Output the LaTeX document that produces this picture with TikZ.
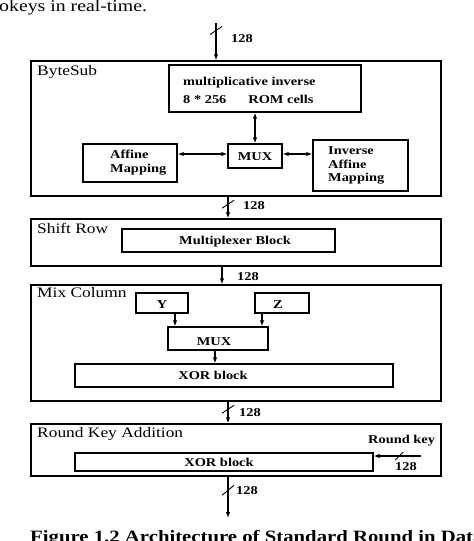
\documentclass[tikz,border=0pt]{standalone}
\usepackage{fontspec}
\setmainfont{Liberation Serif}
\newfontfamily\dfont[FakeStretch=1.2]{Liberation Serif}
\usetikzlibrary{arrows.meta,calc}
\begin{document}
\begin{tikzpicture}[x=1pt,y=-1pt,
  box/.style={draw, line width=1.3pt, inner sep=0pt},
  txt/.style={inner sep=0pt, anchor=base west},
  ctxt/.style={inner sep=0pt, anchor=base},
  lab/.style={font=\dfont\fontsize{14.5}{16}\selectfont},
  bt/.style={font=\dfont\bfseries\fontsize{12}{14}\selectfont},
  arr/.style={line width=1.2pt, -{Latex[length=6pt,width=4.5pt]}},
  darr/.style={line width=1.2pt, {Latex[length=6pt,width=4.5pt]}-{Latex[length=6pt,width=4.5pt]}},
  tick/.style={line width=0.9pt}
]
\fill[white] (0,0) rectangle (474,541);
\useasboundingbox (0,0) rectangle (474,541);

% surrounding text
\node[txt, font=\dfont\fontsize{16.5}{18}\selectfont] (toptext) at (-1,11) {okeys in real-time.};
\node[txt, font=\dfont\bfseries\fontsize{17.3}{19}\selectfont] (caption) at (30,542) {Figure 1.2 Architecture of Standard Round in Data};

% ---- ByteSub
\node[box, minimum width=410pt, minimum height=135pt] (bs) at (236,128.5) {};
\node[txt, lab] (bslab) at (37,75) {ByteSub};
\node[box, minimum width=192pt, minimum height=47pt] (minv) at (265,88.5) {};
\node[txt, bt] (minvt1) at (183,85) {multiplicative inverse};
\node[txt, bt] (minvt2) at (183,103) {8 * 256\hspace{22pt}ROM cells};
\node[box, minimum width=54pt, minimum height=24pt] (mux1) at (255,156) {};
\node[ctxt, bt] (mux1t) at (255,160) {MUX};
\node[box, minimum width=94pt, minimum height=38pt] (aff) at (130,163) {};
\node[txt, bt] (afft1) at (110,158) {Affine};
\node[txt, bt] (afft2) at (110,172) {Mapping};
\node[box, minimum width=95pt, minimum height=51pt] (iaff) at (360.5,165.5) {};
\node[txt, bt] (iafft1) at (328,154) {Inverse};
\node[txt, bt] (iafft2) at (328,168) {Affine};
\node[txt, bt] (iafft3) at (328,181) {Mapping};

% ---- Shift Row
\node[box, minimum width=410pt, minimum height=47pt] (sr) at (236,242.5) {};
\node[txt, lab] (srlab) at (37,233) {Shift Row};
\node[box, minimum width=213pt, minimum height=23pt] (mb) at (228.5,240.5) {};
\node[ctxt, bt] (mbt) at (235,244) {Multiplexer Block};

% ---- Mix Column
\node[box, minimum width=410pt, minimum height=116pt] (mc) at (236,343) {};
\node[txt, lab] (mclab) at (37,297) {Mix Column};
\node[box, minimum width=52pt, minimum height=20pt] (yb) at (162,303) {};
\node[ctxt, bt] (ybt) at (162,308) {Y};
\node[box, minimum width=54pt, minimum height=20pt] (zb) at (282,303) {};
\node[ctxt, bt] (zbt) at (278,308) {Z};
\node[box, minimum width=100pt, minimum height=23pt] (mux2) at (218,338.5) {};
\node[ctxt, bt] (mux2t) at (214,345) {MUX};
\node[box, minimum width=318pt, minimum height=23pt] (xor1) at (234,375.5) {};
\node[ctxt, bt] (xor1t) at (213,379) {XOR block};

% ---- Round Key Addition
\node[box, minimum width=410pt, minimum height=52pt] (rk) at (236,450) {};
\node[txt, lab] (rklab) at (37,437) {Round Key Addition};
\node[box, minimum width=298pt, minimum height=18pt] (xor2) at (224,462) {};
\node[ctxt, bt] (xor2t) at (219,466.5) {XOR block};
\node[txt, bt] (rkey) at (368,443) {Round key};

% ---- coordinates for connectors
\coordinate (in1) at (216,23);
\coordinate (xa) at (228,0);
\coordinate (xb) at (222,0);
\coordinate (ya) at (175,0);
\coordinate (za) at (262,0);
\coordinate (xm) at (215,0);
\coordinate (hy) at (0,154);
\coordinate (rkin) at (421,456);
\coordinate (out) at (228,518);

% ---- connectors
\draw[arr] (in1) -- coordinate[pos=0.2] (t1) (in1 |- bs.north);
\draw[tick] (t1) ++(-6,4) -- ++(12,-8);
\node[txt, bt] (n1) at (231,42) {128};

\draw[darr] (minv.south -| mux1.north) -- (mux1.north);
\draw[darr] (aff.east |- hy) -- (mux1.west |- hy);
\draw[darr] (mux1.east |- hy) -- (iaff.west |- hy);

\draw[arr] (bs.south -| xa) -- coordinate[pos=0.35] (t2) (sr.north -| xa);
\draw[tick] (t2) ++(-6,4) -- ++(12,-8);
\node[txt, bt] (n2) at (243,209) {128};

\draw[arr] (sr.south -| xb) -- (mc.north -| xb);
\node[txt, bt] (n3) at (237,280) {128};

\draw[arr] (yb.south -| ya) -- (mux2.north -| ya);
\draw[arr] (zb.south -| za) -- (mux2.north -| za);
\draw[arr] (mux2.south -| xm) -- (xor1.north -| xm);

\draw[arr] (mc.south -| xa) -- coordinate[pos=0.35] (t4) (rk.north -| xa);
\draw[tick] (t4) ++(-6,4) -- ++(12,-8);
\node[txt, bt] (n4) at (239,416) {128};

\draw[arr] (rkin) -- coordinate[pos=0.46] (t6) (rkin -| xor2.east);
\draw[tick] (t6) ++(-4,4) -- ++(8,-8);
\node[txt, bt] (n6) at (395,470) {128};

\draw[arr] (rk.south -| out) -- coordinate[pos=0.33] (t5) (out);
\draw[tick] (t5) ++(-6,5) -- ++(12,-10);
\node[txt, bt] (n5) at (236,494) {128};
\end{tikzpicture}
\end{document}
